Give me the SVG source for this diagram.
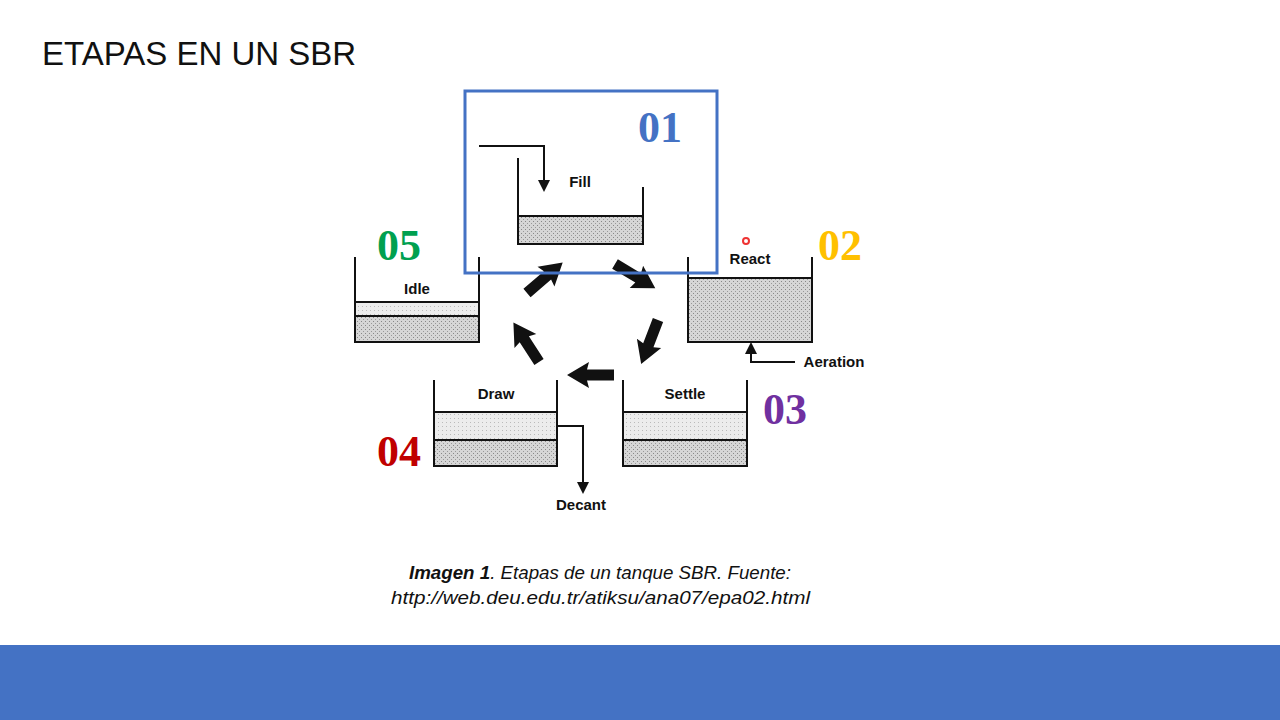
<svg xmlns="http://www.w3.org/2000/svg" width="1280" height="720" viewBox="0 0 1280 720">
<style>
.wall{fill:none;stroke:#111;stroke-width:2}
.lbl{font-family:"Liberation Sans",Arial,sans-serif;font-weight:bold;font-size:15px;fill:#111}
.num{font-family:"Liberation Serif","Times New Roman",serif;font-weight:bold;font-size:44px}
.cap{font-family:"Liberation Sans",Arial,sans-serif;font-style:italic;font-size:18px;fill:#111}
</style>
<defs>
<pattern id="dense" width="4" height="4" patternUnits="userSpaceOnUse"><rect width="4" height="4" fill="#d6d6d6"/><rect x="1" y="1" width="1" height="1" fill="#888"/><rect x="3" y="3" width="1" height="1" fill="#999"/></pattern>
<pattern id="light" width="4" height="4" patternUnits="userSpaceOnUse"><rect width="4" height="4" fill="#ececec"/><rect x="2" y="2" width="1" height="1" fill="#bbb"/></pattern>
<path id="blk" d="M0,-5.5 L27,-5.5 L25,-13 L47,0 L25,13 L27,5.5 L0,5.5 Z" fill="#111"/>
<marker id="ah" markerWidth="12" markerHeight="12" refX="10" refY="6" orient="auto" markerUnits="userSpaceOnUse"><path d="M0,0 L12,6 L0,12 Z" fill="#111"/></marker>
</defs>
<rect width="1280" height="720" fill="#fff"/>
<text x="42" y="65" font-family="'Liberation Sans',Arial,sans-serif" font-size="33" fill="#111">ETAPAS EN UN SBR</text>

<g id="fill">
<rect x="518" y="216" width="125" height="28" fill="url(#dense)"/>
<line x1="518" y1="216" x2="643" y2="216" stroke="#111" stroke-width="2"/>
<path class="wall" d="M518,158 V244 H643 V187"/>
<path class="wall" d="M479,146 H544 V190" marker-end="url(#ah)"/>
<text class="lbl" x="580" y="187" text-anchor="middle">Fill</text>
</g>
<g id="react">
<rect x="688" y="278" width="124" height="64" fill="url(#dense)"/>
<line x1="688" y1="278" x2="812" y2="278" stroke="#111" stroke-width="2"/>
<path class="wall" d="M688,257 V342 H812 V257"/>
<text class="lbl" x="750" y="264" text-anchor="middle">React</text>
<path class="wall" d="M795,362 H751 V344" marker-end="url(#ah)"/>
<text class="lbl" x="834" y="367" text-anchor="middle" font-size="14">Aeration</text>
</g>
<g id="settle">
<rect x="623" y="412" width="124" height="28" fill="url(#light)"/>
<rect x="623" y="440" width="124" height="26" fill="url(#dense)"/>
<path class="wall" d="M623,412 H747 M623,440 H747"/>
<path class="wall" d="M623,380 V466 H747 V380"/>
<text class="lbl" x="685" y="399" text-anchor="middle">Settle</text>
</g>
<g id="draw">
<rect x="434" y="412" width="123" height="28" fill="url(#light)"/>
<rect x="434" y="440" width="123" height="26" fill="url(#dense)"/>
<path class="wall" d="M434,412 H557 M434,440 H557"/>
<path class="wall" d="M434,380 V466 H557 V380"/>
<text class="lbl" x="496" y="399" text-anchor="middle">Draw</text>
<path class="wall" d="M557,426 H583 V492" marker-end="url(#ah)"/>
<text class="lbl" x="581" y="510" text-anchor="middle" font-size="14">Decant</text>
</g>
<g id="idle">
<rect x="355" y="302" width="124" height="14" fill="url(#light)"/>
<rect x="355" y="316" width="124" height="26" fill="url(#dense)"/>
<path class="wall" d="M355,302 H479 M355,316 H479"/>
<path class="wall" d="M355,257 V342 H479 V257"/>
<text class="lbl" x="417" y="294" text-anchor="middle">Idle</text>
</g>
<g id="connectors">
<use href="#blk" transform="translate(527,293) rotate(-40.6)"/>
<use href="#blk" transform="translate(615,264) rotate(31)"/>
<use href="#blk" transform="translate(658,320) rotate(111)"/>
<use href="#blk" transform="translate(614,375) rotate(180)"/>
<use href="#blk" transform="translate(539,362) rotate(237)"/>
</g>
<rect x="465" y="91" width="252" height="182" fill="none" stroke="#4472C4" stroke-width="3"/>
<circle cx="746" cy="241" r="3" fill="none" stroke="#e33" stroke-width="2"/>
<text class="num" x="660" y="142" text-anchor="middle" fill="#4472C4">01</text>
<text class="num" x="840" y="260" text-anchor="middle" fill="#FFC000">02</text>
<text class="num" x="785" y="424" text-anchor="middle" fill="#7030A0">03</text>
<text class="num" x="399" y="466" text-anchor="middle" fill="#C00000">04</text>
<text class="num" x="399" y="260" text-anchor="middle" fill="#00A050">05</text>
<text class="cap" x="409" y="579" textLength="382" lengthAdjust="spacingAndGlyphs"><tspan font-weight="bold">Imagen 1</tspan>. Etapas de un tanque SBR. Fuente:</text>
<text class="cap" x="391" y="604" textLength="419" lengthAdjust="spacingAndGlyphs">http://web.deu.edu.tr/atiksu/ana07/epa02.html</text>
<rect x="0" y="645" width="1280" height="75" fill="#4472C4"/>
</svg>
